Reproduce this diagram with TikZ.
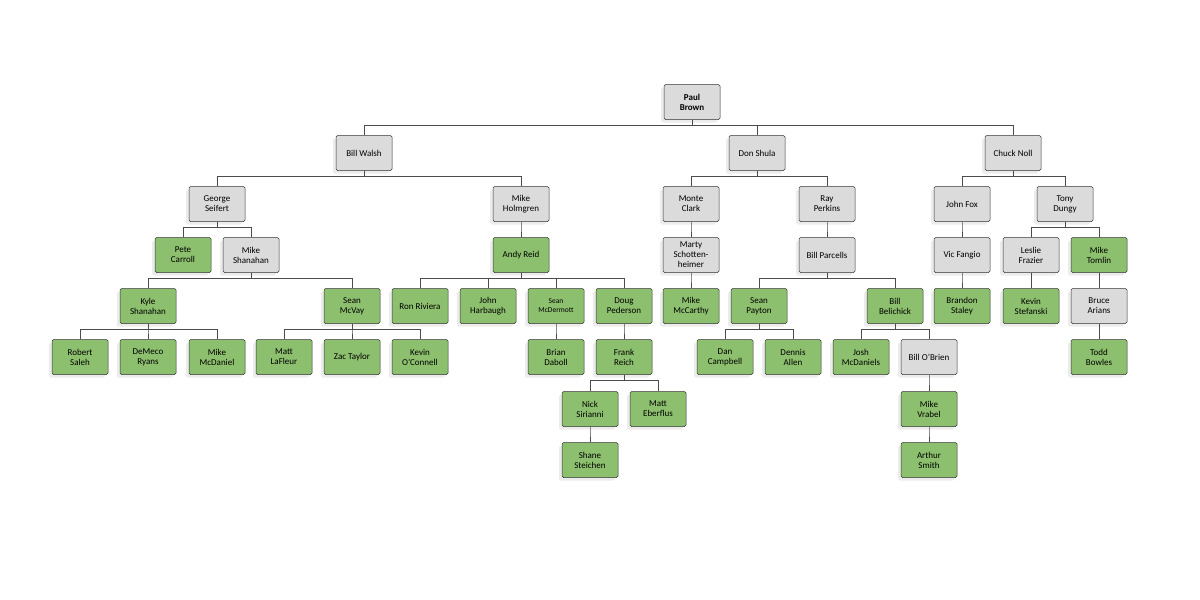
\documentclass[tikz,border=0pt]{standalone}
\usepackage{fontspec}
\setmainfont{Carlito}
\usetikzlibrary{shadows}
\begin{document}
\begin{tikzpicture}[x=1pt,y=-1pt,
 base/.style={draw=black!80,line width=0.5pt,rounded corners=1.5pt,minimum width=56pt,minimum height=35pt,inner sep=1pt,align=center,font=\fontsize{9}{10}\selectfont,drop shadow={shadow xshift=-3pt,shadow yshift=-3pt,opacity=0.15}},
 gr/.style={base,fill=gray!28},
 gn/.style={base,fill={rgb,255:red,141;green,192;blue,110}},
 ln/.style={draw=black!70,line width=0.5pt}]
\useasboundingbox (0,0) rectangle (1200,600);
\node[gr,font=\fontsize{9}{10}\selectfont\bfseries] (pb) at (692,102) {Paul\\Brown};
\node[gr] (bw) at (364,153) {Bill Walsh};
\node[gr] (ds) at (757,153) {Don Shula};
\node[gr] (cn) at (1013,153) {Chuck Noll};
\node[gr] (gs) at (217,204) {George\\Seifert};
\node[gr] (mh) at (521,204) {Mike\\Holmgren};
\node[gr] (mc) at (691,204) {Monte\\Clark};
\node[gr] (rp) at (827,204) {Ray\\Perkins};
\node[gr] (jf) at (962,204) {John Fox};
\node[gr] (td) at (1065,204) {Tony\\Dungy};
\node[gn] (pc) at (183,255) {Pete\\Carroll};
\node[gr] (ms) at (251,255) {Mike\\Shanahan};
\node[gn] (ar) at (521,255) {Andy Reid};
\node[gr] (msc) at (691,255) {Marty\\Schotten-\\heimer};
\node[gr] (bp) at (827,255) {Bill Parcells};
\node[gr] (vf) at (962,255) {Vic Fangio};
\node[gr] (lf) at (1031,255) {Leslie\\Frazier};
\node[gn] (mt) at (1099,255) {Mike\\Tomlin};
\node[gn] (ks) at (148,306) {Kyle\\Shanahan};
\node[gn] (sm) at (352,306) {Sean\\McVay};
\node[gn] (rr) at (420,306) {Ron Riviera};
\node[gn] (jh) at (488,306) {John\\Harbaugh};
\node[gn,font=\fontsize{7.5}{9}\selectfont] (smd) at (556,306) {Sean\\McDermott};
\node[gn] (dp) at (624,306) {Doug\\Pederson};
\node[gn] (mmc) at (691,306) {Mike\\McCarthy};
\node[gn] (sp) at (759,306) {Sean\\Payton};
\node[gn] (bb) at (895,306) {Bill\\Belichick};
\node[gn] (bs) at (962,306) {Brandon\\Staley};
\node[gn] (kst) at (1031,306) {Kevin\\Stefanski};
\node[gr] (ba) at (1099,306) {Bruce\\Arians};
\node[gn] (rs) at (80,357) {Robert\\Saleh};
\node[gn] (dr) at (148,357) {DeMeco\\Ryans};
\node[gn] (mmd) at (217,357) {Mike\\McDaniel};
\node[gn] (ml) at (284,357) {Matt\\LaFleur};
\node[gn] (zt) at (352,357) {Zac Taylor};
\node[gn] (ko) at (420,357) {Kevin\\O'Connell};
\node[gn] (bd) at (556,357) {Brian\\Daboll};
\node[gn] (fr) at (624,357) {Frank\\Reich};
\node[gn] (dc) at (725,357) {Dan\\Campbell};
\node[gn] (da) at (793,357) {Dennis\\Allen};
\node[gn] (jm) at (861,357) {Josh\\McDaniels};
\node[gr] (bo) at (929,357) {Bill O'Brien};
\node[gn] (tb) at (1099,357) {Todd\\Bowles};
\node[gn] (ns) at (590,409) {Nick\\Sirianni};
\node[gn] (me) at (658,409) {Matt\\Eberflus};
\node[gn] (mv) at (929,409) {Mike\\Vrabel};
\node[gn] (ss) at (590,460) {Shane\\Steichen};
\node[gn] (as) at (929,460) {Arthur\\Smith};
\foreach \p/\cs in {pb/{bw,ds,cn},bw/{gs,mh},ds/{mc,rp},cn/{jf,td},gs/{pc,ms},mh/{ar},mc/{msc},rp/{bp},jf/{vf},td/{lf,mt},
 ms/{ks,sm},ar/{rr,jh,smd,dp},msc/{mmc},bp/{sp,bb},vf/{bs},lf/{kst},mt/{ba},
 ks/{rs,dr,mmd},sm/{ml,zt,ko},smd/{bd},dp/{fr},sp/{dc,da},bb/{jm,bo},ba/{tb},
 fr/{ns,me},bo/{mv},ns/{ss},mv/{as}}
 \foreach \c in \cs \draw[ln] (\p.south) -- ++(0,5) -| (\c.north);
\end{tikzpicture}
\end{document}
